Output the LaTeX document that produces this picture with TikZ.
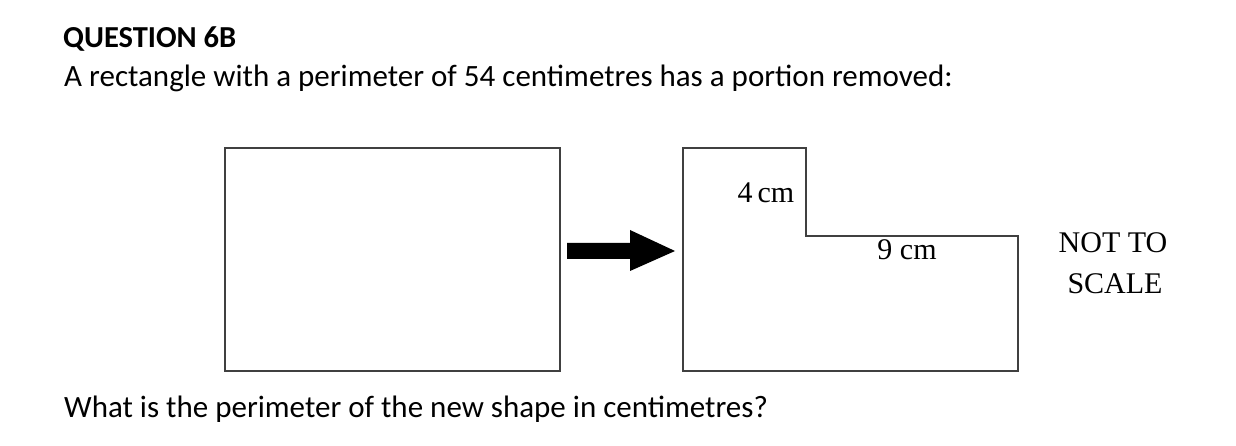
\documentclass[tikz,border=0pt]{standalone}
\usepackage{fontspec}
\setmainfont{Liberation Serif}
\newfontfamily\calib{Carlito}
\begin{document}
\begin{tikzpicture}[x=1pt,y=-1pt,
  qtext/.style={anchor=base west, inner sep=0pt, font=\calib\fontsize{31}{36}\selectfont},
  qtitle/.style={qtext, font=\calib\bfseries\fontsize{30.5}{36}\selectfont},
  shapeline/.style={draw=black!75, line width=1.4pt, line join=miter},
  dimlabel/.style={anchor=base, inner sep=0pt, font=\fontsize{30}{34}\selectfont},
  blockarrow/.style={fill=black, draw=none}]
\useasboundingbox (0,0) rectangle (1236,446);
\node[qtitle] (title) at (63,48) {QUESTION 6B};
\node[qtext] (intro) at (64,87) {A rectangle with a perimeter of 54 centimetres has a portion removed:};
\node[qtext] (ques) at (64,417) {What is the perimeter of the new shape in centimetres?};
% original rectangle
\draw[shapeline] (225,148) rectangle (560,371);
% block arrow
\fill[blockarrow] (567,243) -- (630,243) -- (630,230) -- (675,251) -- (630,271) -- (630,259) -- (567,259) -- cycle;
% L-shape
\draw[shapeline] (683,148) -- (806,148) -- (806,236) -- (1018,236) -- (1018,371) -- (683,371) -- cycle;
\node[dimlabel] (four) at (766,203) {4\,cm};
\node[dimlabel] (nine) at (907,260) {9 cm};
\node[dimlabel] (nt) at (1113,253) {NOT TO};
\node[dimlabel] (sc) at (1115,293) {SCALE};
\end{tikzpicture}
\end{document}
